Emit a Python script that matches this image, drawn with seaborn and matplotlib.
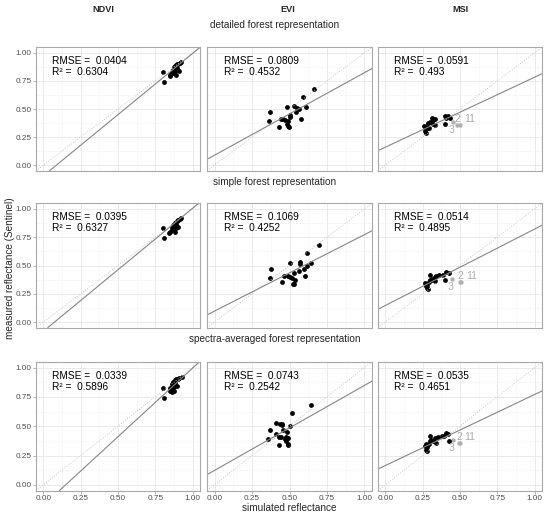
import numpy as np
import pandas as pd
import matplotlib
matplotlib.use("Agg")
import matplotlib.pyplot as plt
from matplotlib.ticker import MultipleLocator
import seaborn as sns

indices = ["NDVI", "EVI", "MSI"]
representations = ["detailed forest representation",
                   "simple forest representation",
                   "spectra-averaged forest representation"]

# measured reflectance (Sentinel), same sites in every row
ndvi_meas = [0.83, 0.74, 0.80, 0.81, 0.85, 0.88, 0.89, 0.905, 0.91, 0.92,
             0.80, 0.84, 0.86, 0.865, 0.83, 0.835, 0.79, 0.875, 0.90, 0.82]
evi_meas = [0.68, 0.61, 0.47, 0.52, 0.53, 0.51, 0.50, 0.47, 0.52, 0.45, 0.43,
            0.41, 0.41, 0.40, 0.39, 0.39, 0.41, 0.37, 0.35, 0.34, 0.34]
msi_meas = [0.345, 0.30, 0.32, 0.35, 0.375, 0.38, 0.42, 0.40, 0.37, 0.33,
            0.36, 0.44, 0.435, 0.42, 0.42, 0.37, 0.29, 0.41]

# simulated reflectance per forest representation
ndvi_detailed = [0.80, 0.81, 0.85, 0.857, 0.868, 0.88, 0.89, 0.90, 0.913, 0.924,
                 0.886, 0.909, 0.873, 0.895, 0.864, 0.884, 0.846, 0.875, 0.893, 0.87]
ndvi_simple = [0.80, 0.81, 0.85, 0.86, 0.87, 0.885, 0.895, 0.905, 0.915, 0.925,
               0.88, 0.905, 0.87, 0.89, 0.86, 0.89, 0.845, 0.88, 0.90, 0.872]
ndvi_spectra = [0.80, 0.81, 0.85, 0.855, 0.865, 0.875, 0.885, 0.90, 0.91, 0.93,
                0.875, 0.895, 0.86, 0.885, 0.85, 0.875, 0.86, 0.87, 0.89, 0.865]

evi_detailed = [0.66, 0.59, 0.37, 0.48, 0.53, 0.55, 0.565, 0.545, 0.61, 0.505, 0.50,
                0.44, 0.455, 0.47, 0.49, 0.36, 0.58, 0.48, 0.49, 0.43, 0.495]
evi_simple = [0.70, 0.62, 0.378, 0.503, 0.567, 0.572, 0.617, 0.60, 0.645, 0.563, 0.532,
              0.46, 0.487, 0.505, 0.516, 0.371, 0.605, 0.534, 0.452, 0.52, 0.53]
evi_spectra = [0.645, 0.516, 0.367, 0.434, 0.407, 0.449, 0.505, 0.456, 0.45, 0.48, 0.411,
               0.427, 0.478, 0.487, 0.47, 0.356, 0.44, 0.478, 0.492, 0.427, 0.49]

msi_detailed = [0.258, 0.264, 0.271, 0.28, 0.286, 0.298, 0.309, 0.316, 0.32, 0.293,
                0.331, 0.398, 0.42, 0.409, 0.431, 0.398, 0.27, 0.33]
msi_simple = [0.265, 0.28, 0.275, 0.29, 0.30, 0.31, 0.302, 0.33, 0.31, 0.28,
              0.33, 0.409, 0.425, 0.387, 0.358, 0.398, 0.285, 0.34]
msi_spectra = [0.27, 0.275, 0.28, 0.29, 0.30, 0.305, 0.302, 0.33, 0.32, 0.264,
               0.34, 0.409, 0.42, 0.376, 0.39, 0.427, 0.28, 0.35]

# labelled MSI sites drawn in grey
msi_out_labels = ["2", "11", "3"]
msi_out_meas = [0.355, 0.353, 0.38]
msi_out_detailed = [0.48, 0.50, 0.45]
msi_out_simple = [0.50, 0.51, 0.443]
msi_out_spectra = [0.49, 0.50, 0.45]

# fit statistics and regression lines (rows: detailed, simple, spectra-averaged)
ndvi_rmse = [0.0404, 0.0395, 0.0339]
ndvi_r2 = [0.6304, 0.6327, 0.5896]
evi_rmse = [0.0809, 0.1069, 0.0743]
evi_r2 = [0.4532, 0.4252, 0.2542]
msi_rmse = [0.0591, 0.0514, 0.0535]
msi_r2 = [0.493, 0.4895, 0.4651]

ndvi_intercept = [-0.095, -0.081, -0.174]
ndvi_slope = [1.09, 1.087, 1.169]
evi_intercept = [0.088, 0.097, 0.123]
evi_slope = [0.736, 0.676, 0.725]
msi_intercept = [0.16, 0.147, 0.165]
msi_slope = [0.623, 0.675, 0.605]

meas = [ndvi_meas, evi_meas, msi_meas]
sims = [[ndvi_detailed, ndvi_simple, ndvi_spectra],
        [evi_detailed, evi_simple, evi_spectra],
        [msi_detailed, msi_simple, msi_spectra]]
out_sims = [msi_out_detailed, msi_out_simple, msi_out_spectra]
rmses = [ndvi_rmse, evi_rmse, msi_rmse]
r2s = [ndvi_r2, evi_r2, msi_r2]
intercepts = [ndvi_intercept, evi_intercept, msi_intercept]
slopes = [ndvi_slope, evi_slope, msi_slope]

sns.set_theme(style="white")
plt.rcParams["font.family"] = ["Liberation Sans", "DejaVu Sans"]

W, H = 550, 518
fig = plt.figure(figsize=(W / 100, H / 100), dpi=100)

col_px = [(36, 200), (207, 372), (378, 542)]
row_px = [(47.3, 170.7), (203.3, 327.7), (361.7, 490.7)]

# label offsets (points) for the grey MSI labels
label_offsets = [(0.5, 4.5), (7.0, 4.5), (-1.0, -5.5)]

for r in range(3):
    for c in range(3):
        x0, x1 = col_px[c]
        yt, yb = row_px[r]
        ax = fig.add_axes([x0 / W, 1 - yb / H, (x1 - x0) / W, (yb - yt) / H])
        ax.set_xlim(-0.05, 1.05)
        ax.set_ylim(-0.05, 1.05)
        ax.xaxis.set_major_locator(MultipleLocator(0.25))
        ax.yaxis.set_major_locator(MultipleLocator(0.25))
        ax.xaxis.set_minor_locator(MultipleLocator(0.125))
        ax.yaxis.set_minor_locator(MultipleLocator(0.125))
        ax.grid(which="major", color="#e6e6e6", lw=0.6)
        ax.grid(which="minor", color="#f3f3f3", lw=0.4)
        ax.set_axisbelow(True)
        for s in ax.spines.values():
            s.set_color("#a8a8a8")
            s.set_linewidth(0.8)

        ax.axline((0, 0), (1, 1), ls=":", color="#c8c8c8", lw=0.7)
        ax.axline((0, intercepts[c][r]), slope=slopes[c][r], color="#858585", lw=0.8)

        if c == 2:
            ox = out_sims[r]
            sns.scatterplot(x=ox, y=msi_out_meas, ax=ax, color="#b0b0b0",
                            s=10, linewidth=0, legend=False)

        df = pd.DataFrame({"sim": sims[c][r], "meas": meas[c]})
        sns.scatterplot(data=df, x="sim", y="meas", ax=ax, color="black",
                        s=12, linewidth=0, legend=False)

        if c == 2:
            for lab, xx, yy, off in zip(msi_out_labels, ox, msi_out_meas, label_offsets):
                ax.annotate(lab, (xx, yy), xytext=off, textcoords="offset points",
                            ha="center", va="center", color="#ababab",
                            fontsize=7.6, zorder=5)

        ax.text(0.10, 0.893, f"RMSE =  {rmses[c][r]}", transform=ax.transAxes,
                va="center", ha="left", fontsize=7.3, color="black")
        ax.text(0.10, 0.80, f"R\u00b2 =  {r2s[c][r]}", transform=ax.transAxes,
                va="center", ha="left", fontsize=7.3, color="black")

        ax.set_xlabel("")
        ax.set_ylabel("")
        ax.tick_params(which="major", length=2.2, width=0.6, color="#a8a8a8",
                       labelsize=5.9, labelcolor="#4d4d4d", pad=1.2)
        ax.tick_params(which="minor", length=0)
        ax.tick_params(axis="x", bottom=(r == 2), labelbottom=(r == 2))
        ax.tick_params(axis="y", left=(c == 0), labelleft=(c == 0))
        ax.xaxis.set_major_formatter(lambda v, p: f"{v:.2f}")
        ax.yaxis.set_major_formatter(lambda v, p: f"{v:.2f}")

# column headers
for name, xc in zip(indices, [103, 288, 460]):
    fig.text(xc / W, 1 - 10 / H, name, ha="center", va="center",
             fontsize=6.6, fontweight="bold")

# row titles
for name, yc in zip(representations, [25, 182, 339]):
    fig.text(275 / W, 1 - yc / H, name, ha="center", va="center", fontsize=7.2)

fig.text(289 / W, 1 - 508 / H, "simulated reflectance", ha="center", va="center",
         fontsize=7.2)
fig.text(10 / W, 1 - 268 / H, "measured reflectance (Sentinel)", ha="center",
         va="center", rotation=90, fontsize=7.2)

fig.savefig("out.png", dpi=100)
